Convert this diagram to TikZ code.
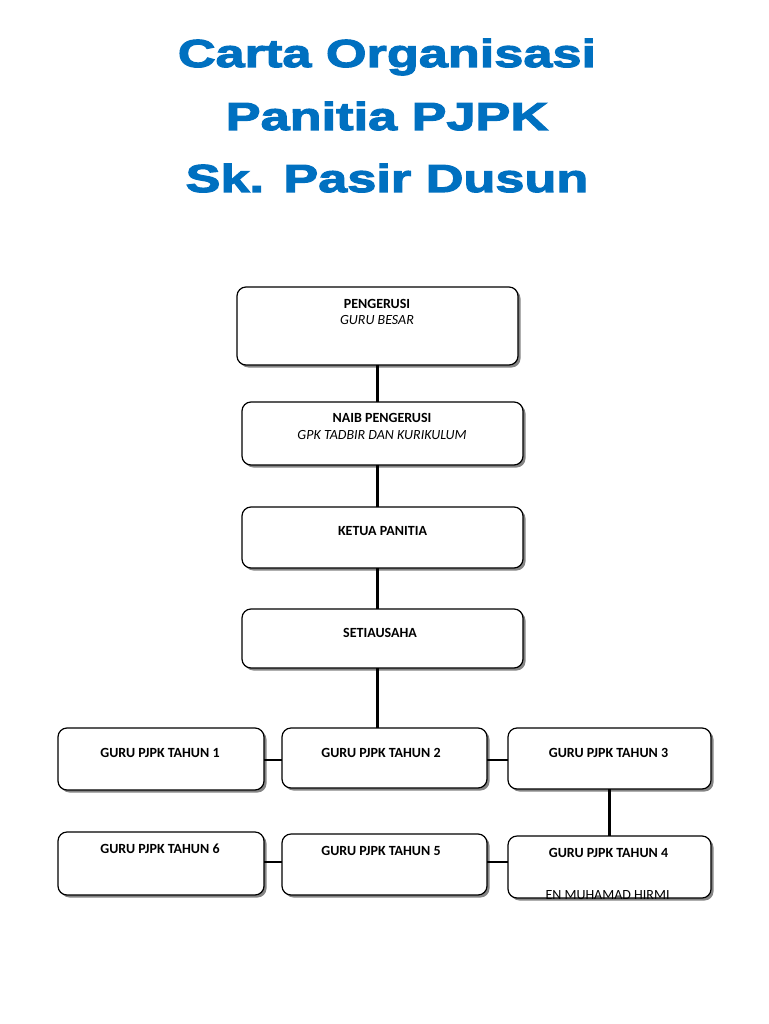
\documentclass[tikz,border=0pt]{standalone}
\usepackage{fontspec}
\setmainfont{Carlito}
\newfontfamily\titlefont[FakeStretch=1.34,BoldFeatures={FakeBold=3}]{Liberation Sans}
\usetikzlibrary{shadows,calc}
\definecolor{titleblue}{RGB}{0,112,192}
\tikzset{
  orgbox/.style={draw=black, line width=1.2pt, fill=white, rounded corners=9pt,
    inner sep=0pt, outer sep=0pt,
    drop shadow={shadow xshift=2.5pt, shadow yshift=-2.5pt, fill=black!60, opacity=0.8}},
  lbl/.style={anchor=base, inner sep=0pt, font=\fontsize{14}{16}\selectfont\bfseries},
  ilbl/.style={anchor=base, inner sep=0pt, font=\fontsize{14}{16}\selectfont\itshape},
  ttl/.style={anchor=base, inner sep=0pt, text=titleblue, font=\titlefont\bfseries\fontsize{39}{44}\selectfont},
  link/.style={draw=black, line width=2.2pt}
}
\begin{document}
\begin{tikzpicture}[x=1pt,y=-1pt]
\useasboundingbox[fill=white] (0,0) rectangle (768,1024);
% title
\node[ttl] (ti1) at (387,67) {Carta Organisasi};
\node[ttl] (ti2) at (387,130) {Panitia PJPK};
\node[ttl] (ti3) at (387,192) {Sk. Pasir Dusun};
% boxes
\node[orgbox, minimum width=281pt, minimum height=78pt] (p) at (377.5,326) {};
\node[orgbox, minimum width=281pt, minimum height=63pt] (n) at (382.5,433.5) {};
\node[orgbox, minimum width=281pt, minimum height=61pt] (k) at (382.5,537.5) {};
\node[orgbox, minimum width=281pt, minimum height=59pt] (s) at (382.5,638.5) {};
\node[orgbox, minimum width=206pt, minimum height=62pt] (t1) at (161,759) {};
\node[orgbox, minimum width=205pt, minimum height=60pt] (t2) at (384.5,758) {};
\node[orgbox, minimum width=203pt, minimum height=61pt] (t3) at (609.5,758.5) {};
\node[orgbox, minimum width=206pt, minimum height=63pt] (t6) at (161,863.5) {};
\node[orgbox, minimum width=205pt, minimum height=61pt] (t5) at (384.5,864.5) {};
\node[orgbox, minimum width=203pt, minimum height=62pt] (t4) at (609.5,867) {};
% texts
\node[lbl] (pa) at (377,308) {PENGERUSI};
\node[ilbl] (pb) at (377,324) {GURU BESAR};
\node[lbl] (na) at (382,422) {NAIB PENGERUSI};
\node[ilbl] (nb) at (382,439) {GPK TADBIR DAN KURIKULUM};
\node[lbl] (ka) at (382.5,535) {KETUA PANITIA};
\node[lbl] (sa) at (380,637) {SETIAUSAHA};
\node[lbl] (t1a) at (160,757) {GURU PJPK TAHUN 1};
\node[lbl] (t2a) at (381,757) {GURU PJPK TAHUN 2};
\node[lbl] (t3a) at (608.5,757) {GURU PJPK TAHUN 3};
\node[lbl] (t6a) at (160,853) {GURU PJPK TAHUN 6};
\node[lbl] (t5a) at (381,855) {GURU PJPK TAHUN 5};
\node[lbl] (t4a) at (608.5,857) {GURU PJPK TAHUN 4};
\node[lbl, font=\fontsize{14}{16}\selectfont] (t4b) at (607.5,899) {EN MUHAMAD HIRMI};
% connectors
\draw[link] (p.south) -- (p.south |- n.north);
\draw[link] (p.south |- n.south) -- (p.south |- k.north);
\draw[link] (p.south |- k.south) -- (p.south |- s.north);
\draw[link] (p.south |- s.south) -- (p.south |- t2.north);
\draw[link] ([yshift=-1pt]t1.east) -- ([yshift=-1pt]t1.east -| t2.west);
\draw[link] ([yshift=-2pt]t2.east) -- ([yshift=-2pt]t2.east -| t3.west);
\draw[link] (t3.south) -- (t4.north);
\draw[link] ([yshift=1.5pt]t6.east) -- ([yshift=1.5pt]t6.east -| t5.west);
\draw[link] ([yshift=2.5pt]t5.east) -- ([yshift=2.5pt]t5.east -| t4.west);
\end{tikzpicture}
\end{document}
